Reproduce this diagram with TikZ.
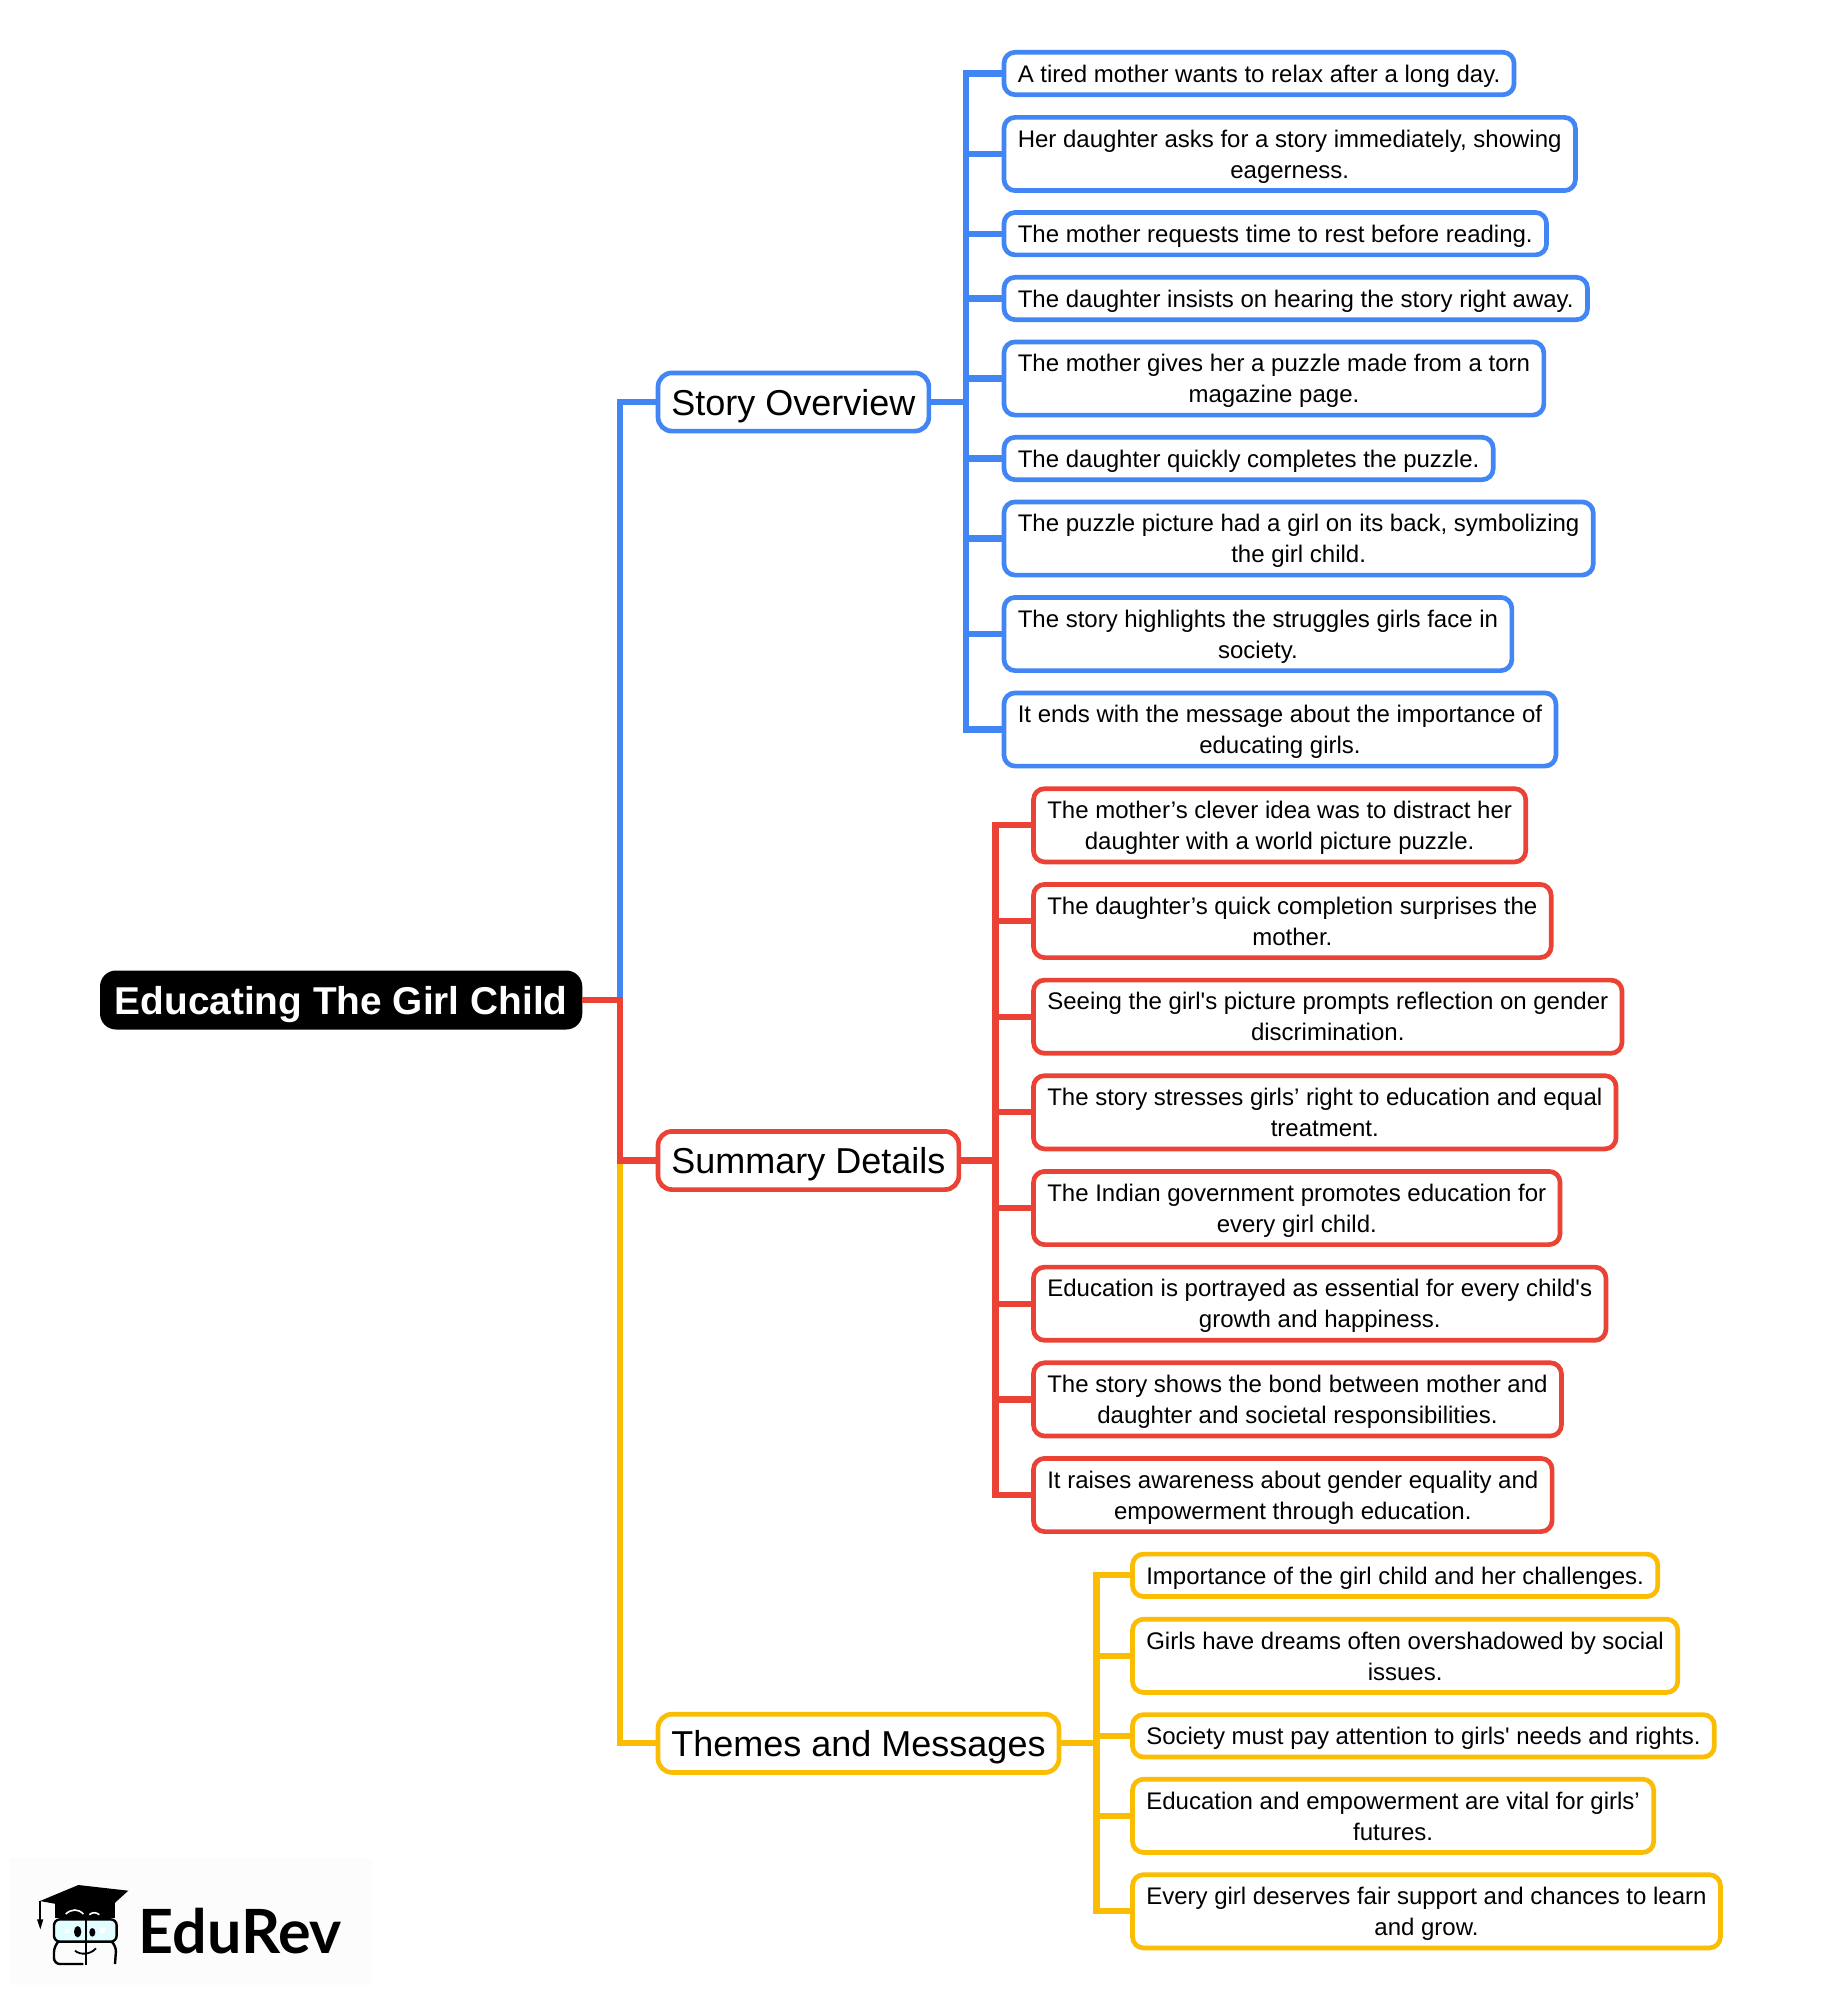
\documentclass[tikz,border=0pt]{standalone}
\usepackage{fontspec}
\newfontfamily\mapfont{Liberation Sans}
\newfontfamily\logofont{Lato}
\definecolor{storyblue}{HTML}{4285F4}
\definecolor{summaryred}{HTML}{EA4335}
\definecolor{themeyellow}{HTML}{FBBC04}
\tikzset{
  leaf/.style={draw=#1,line width=2.35pt,rounded corners=5.5pt,fill=white,anchor=west,
    outer sep=0pt,inner xsep=6.9pt,inner ysep=0pt,align=center,text depth=0pt,
    font=\mapfont\fontsize{12}{15.5}\selectfont},
  oneline/.style={minimum height=21.2pt},
  twoline/.style={minimum height=36.6pt},
  branch/.style={draw=#1,line width=2.35pt,rounded corners=7pt,fill=white,anchor=west,
    outer sep=0pt,inner xsep=6.7pt,minimum height=29.1pt,text depth=0pt,
    font=\mapfont\fontsize{18}{21}\selectfont},
  link/.style={draw=#1,line width=3.1pt}
}
\begin{document}
\begin{tikzpicture}[x=0.5pt,y=-0.5pt]
  \useasboundingbox (0,0) rectangle (1823,2001);
  %
  % Logo backdrop
  \fill[black!1] (10,1858) rectangle (372,1985);
  %
  % Root and branches
  \node[fill=black,text=white,rounded corners=8pt,minimum height=29.5pt,inner xsep=7.4pt,
    outer sep=0pt,anchor=west,text depth=0pt,font=\mapfont\bfseries\fontsize{19.4}{23}\selectfont]
    (root) at (100,1000) {Educating The Girl Child};
  \node[branch=storyblue] (story) at (658,402) {Story Overview};
  \node[branch=summaryred] (summary) at (658,1160.5) {Summary Details};
  \node[branch=themeyellow] (themes) at (658,1743.3) {Themes and Messages};
  %
  % Main trunk
  \coordinate (maintrunk) at (620,1000);
  \draw[link=storyblue] (maintrunk) |- (story.west);
  \draw[link=themeyellow] (maintrunk) |- (themes.west);
  \draw[link=summaryred] (root.east) -- (maintrunk) |- (summary.west);
  %
  % Story leaves
  \coordinate (storytrunk) at (966,402);
  \draw[link=storyblue] (story.east) -- (storytrunk);
  \foreach \name/\ypos/\lines/\txt in {
    storya/73.5/oneline/{A tired mother wants to relax after a long day.},
    storyb/154/twoline/{Her daughter asks for a story immediately, showing\\eagerness.},
    storyc/233.7/oneline/{The mother requests time to rest before reading.},
    storyd/298.5/oneline/{The daughter insists on hearing the story right away.},
    storye/378.5/twoline/{The mother gives her a puzzle made from a torn\\magazine page.},
    storyf/458.5/oneline/{The daughter quickly completes the puzzle.},
    storyg/538.5/twoline/{The puzzle picture had a girl on its back, symbolizing\\the girl child.},
    storyh/634/twoline/{The story highlights the struggles girls face in\\society.},
    storyi/729.5/twoline/{It ends with the message about the importance of\\educating girls.}}
  {
    \node[leaf=storyblue,\lines] (\name) at (1004,\ypos) {\txt};
    \draw[link=storyblue] (storytrunk) |- (\name.west);
  }
  %
  % Summary leaves
  \coordinate (summarytrunk) at (995.5,1160.5);
  \draw[link=summaryred] (summary.east) -- (summarytrunk);
  \foreach \name/\ypos/\txt in {
    suma/825.3/{The mother’s clever idea was to distract her\\daughter with a world picture puzzle.},
    sumb/921/{The daughter’s quick completion surprises the\\mother.},
    sumc/1016.7/{Seeing the girl's picture prompts reflection on gender\\discrimination.},
    sumd/1112.3/{The story stresses girls’ right to education and equal\\treatment.},
    sume/1208/{The Indian government promotes education for\\every girl child.},
    sumf/1303.7/{Education is portrayed as essential for every child's\\growth and happiness.},
    sumg/1399.4/{The story shows the bond between mother and\\daughter and societal responsibilities.},
    sumh/1495/{It raises awareness about gender equality and\\empowerment through education.}}
  {
    \node[leaf=summaryred,twoline] (\name) at (1033.5,\ypos) {\txt};
    \draw[link=summaryred] (summarytrunk) |- (\name.west);
  }
  %
  % Theme leaves
  \coordinate (themestrunk) at (1096.5,1743.3);
  \draw[link=themeyellow] (themes.east) -- (themestrunk);
  \foreach \name/\ypos/\lines/\txt in {
    thema/1575.3/oneline/{Importance of the girl child and her challenges.},
    themb/1655.8/twoline/{Girls have dreams often overshadowed by social\\issues.},
    themc/1735.8/oneline/{Society must pay attention to girls' needs and rights.},
    themd/1815.8/twoline/{Education and empowerment are vital for girls’\\futures.},
    theme/1911.3/twoline/{Every girl deserves fair support and chances to learn\\and grow.}}
  {
    \node[leaf=themeyellow,\lines] (\name) at (1132.5,\ypos) {\txt};
    \draw[link=themeyellow] (themestrunk) |- (\name.west);
  }
  %
  % Logo
  \begin{scope}[shift={(0,1820)},x=0.16667pt,y=-0.16667pt]
    \fill[black] (165,250) -- (345,250) -- (345,294) -- (165,294) -- cycle;
    \draw[white,line width=0.8pt] (197,282) .. controls (215,266) and (235,266) .. (250,282);
    \draw[white,line width=0.8pt] (268,284) .. controls (278,276) and (288,276) .. (298,284);
    \fill[black] (120,243) -- (235,195) -- (385,212) -- (312,278) -- cycle;
    \draw[black,line width=0.8pt] (120,243) -- (120,300);
    \fill[black] (111,298) -- (130,298) -- (121,328) -- cycle;
    \draw[black,fill=blue!8!cyan!12,line width=1.2pt,rounded corners=3pt]
      (162,298) rectangle (350,365);
    \draw[black,line width=1.2pt,rounded corners=3pt]
      (175,365) -- (162,378) -- (162,432) -- (250,432);
    \draw[black,line width=1.2pt,rounded corners=3pt]
      (335,365) -- (349,378) -- (345,432);
    \draw[black,line width=1.2pt] (258,298) -- (258,435);
    \fill[black] (233,335) ellipse [x radius=11,y radius=17];
    \fill[black] (277,337) ellipse [x radius=9,y radius=13];
    \fill[white] (196,326) rectangle (210,339);
    \fill[white] (301,324) rectangle (316,338);
    \draw[black,line width=0.9pt] (225,392) .. controls (240,405) and (270,405) .. (288,385);
  \end{scope}
  \node[anchor=base west,inner sep=0pt,font=\logofont\bfseries\fontsize{30.5}{34}\selectfont]
    (logoname) at (138,1953) {EduRev};
\end{tikzpicture}
\end{document}
